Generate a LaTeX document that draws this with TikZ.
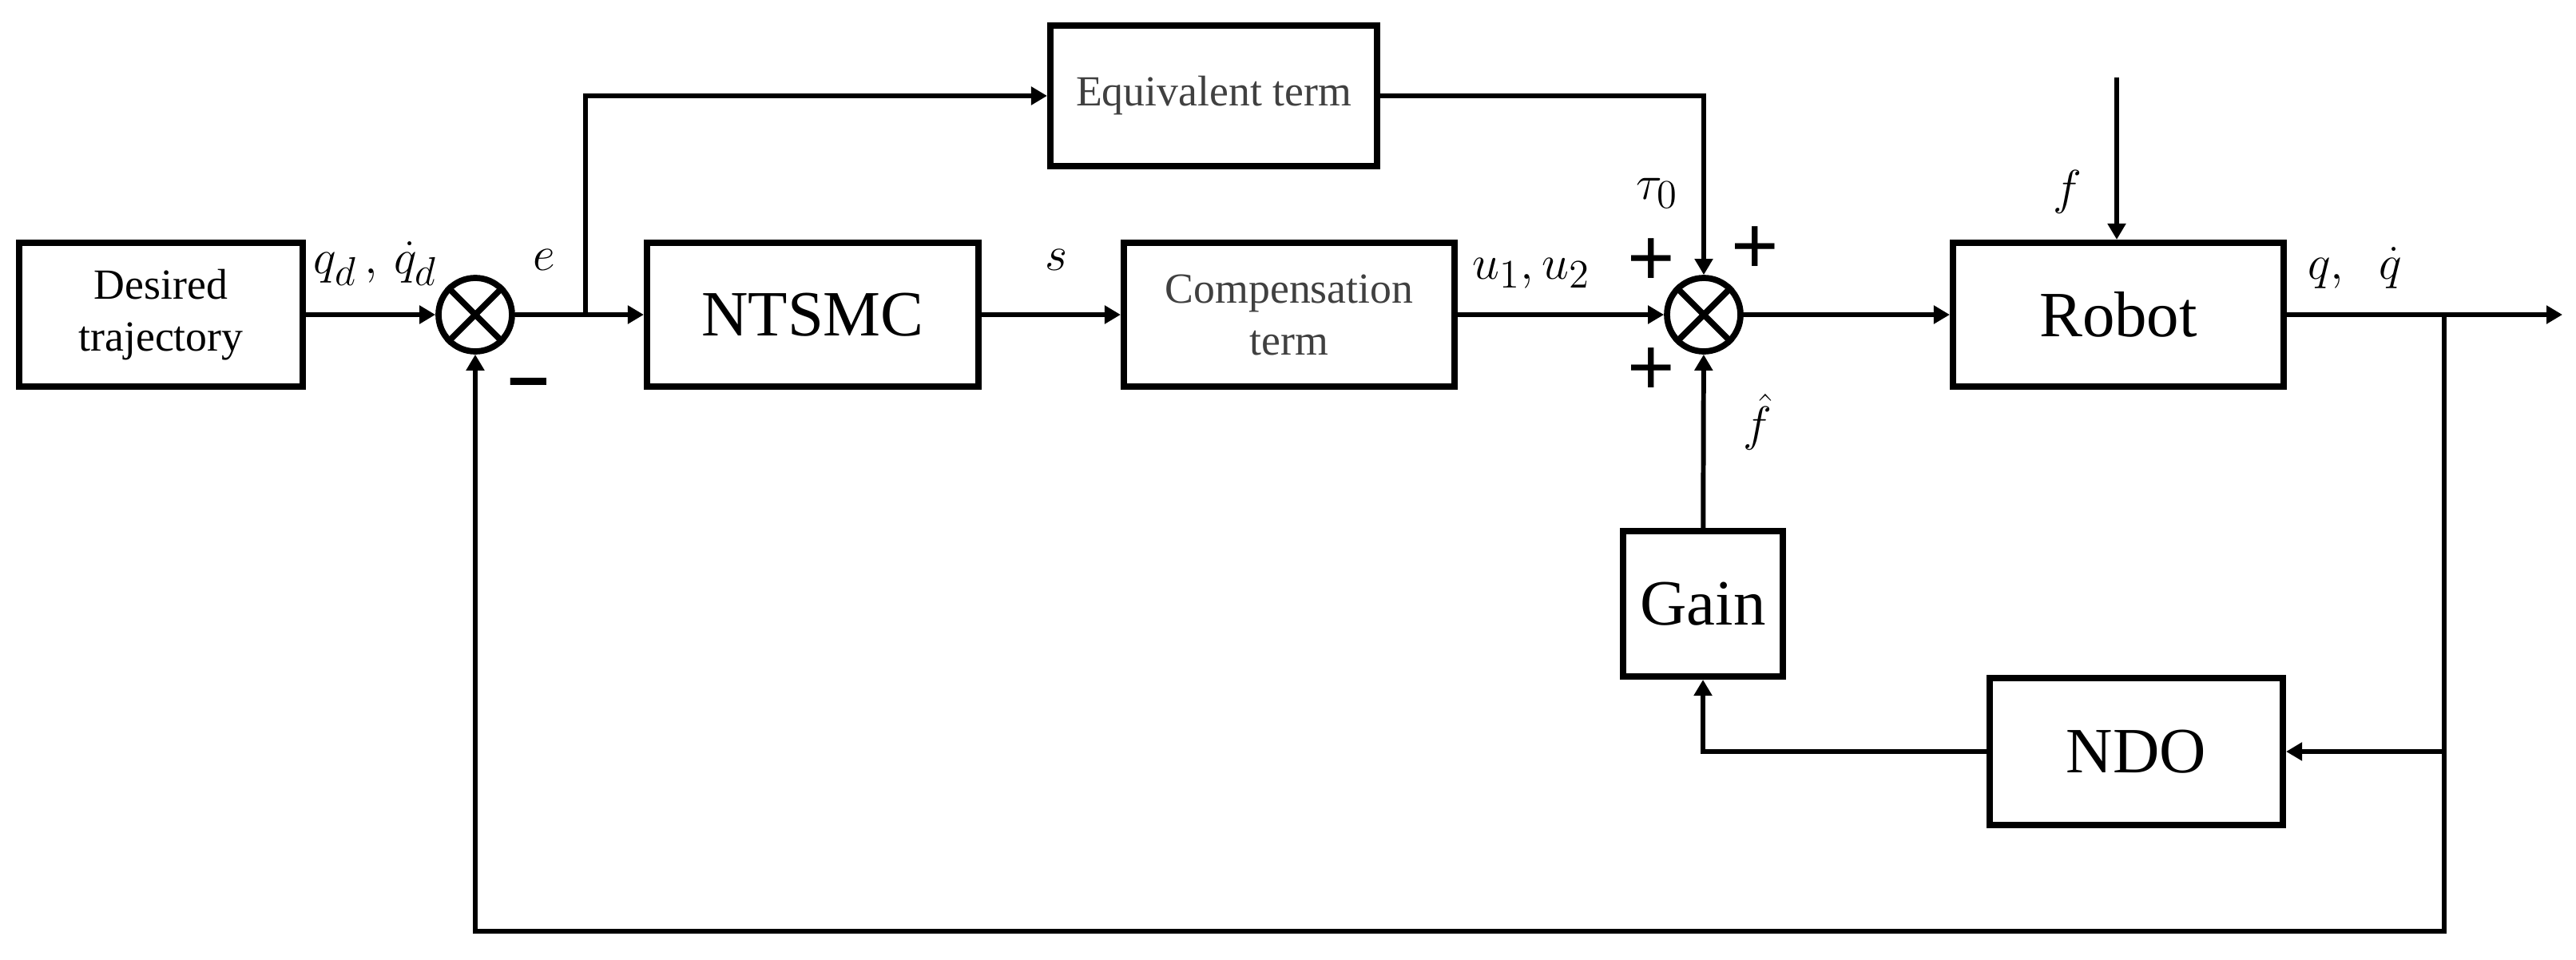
\documentclass[tikz,border=0pt]{standalone}
\usepackage{fontspec}
\setmainfont{Liberation Serif}
\setsansfont{Liberation Sans}
\usepackage{amsmath}
\usetikzlibrary{arrows.meta,shapes}
\tikzstyle{edge}=[
	-,
	draw=black,
	line width=1.7pt
]
\tikzstyle{arr}=[
	edge,
	-{Triangle[length=2mm,width=2.2mm]}
]
\tikzstyle{block}=[
	rectangle,
	draw=black,
	line width=2.3pt,
	inner sep=1mm,
	font=\fontsize{23}{27}\selectfont
]
\tikzstyle{sum}=[
	circle,
	draw=black,
	line width=2.2pt,
	minimum size=9.2mm,
	inner sep=0pt
]
\tikzstyle{lab}=[
	inner sep=0pt,
	font=\fontsize{19}{22}\selectfont
]
\tikzstyle{sgn}=[
	inner sep=0pt,
	font=\fontsize{29}{29}\selectfont\sffamily
]
\begin{document}
\begin{tikzpicture}[small/.style={block, font=\fontsize{15.3}{18.5}\selectfont, align=center}]
\useasboundingbox (0,0) rectangle (32.25,-12.01);

\node[small, minimum width=3.55cm, minimum height=1.8cm] at (2.015,-3.94) (traj) {Desired\\trajectory};
\node[block, minimum width=4.15cm, minimum height=1.8cm] at (10.175,-3.94) (ntsmc) {NTSMC};
\node[small, text=black!75, minimum width=4.14cm, minimum height=1.8cm] at (16.14,-3.94) (comp) {Compensation\\term};
\node[block, minimum width=4.14cm, minimum height=1.8cm] at (26.52,-3.94) (robot) {Robot};
\node[small, text=black!75, minimum width=4.09cm, minimum height=1.76cm] at (15.195,-1.2) (equiv) {Equivalent term};
\node[block, minimum width=2.0cm, minimum height=1.82cm] at (21.32,-7.56) (gain) {Gain};
\node[block, minimum width=3.67cm, minimum height=1.84cm] at (26.745,-9.41) (ndo) {NDO};

\node[sum] at (5.95,-3.94) (s1) {};
\node[sum] at (21.33,-3.94) (s2) {};
\foreach \s in {s1, s2}{
    \draw[line width=2.2pt] (\s.north west) -- (\s.south east) (\s.north east) -- (\s.south west);
}

\coordinate (eb) at (7.33,-3.94);
\coordinate (ftop) at (26.5,-0.97);
\coordinate (out) at (32.08,-3.94);
\coordinate (ob) at (30.6,-3.94);
\coordinate (fb) at (30.6,-11.66);

\draw[arr] (traj) -- (s1);
\draw[arr] (s1) -- (ntsmc);
\draw[arr] (eb) |- (equiv.west);
\draw[arr] (equiv.east) -| (s2.north);
\draw[arr] (ntsmc) -- (comp);
\draw[arr] (comp) -- (s2);
\draw[arr] (s2) -- (robot);
\draw[arr] (ftop) -- (ftop |- robot.north);
\draw[arr] (robot) -- (out);
\draw[arr] (ob |- ndo.east) -- (ndo.east);
\draw[arr] (ndo.west) -| (gain.south);
\draw[arr] (gain) -- (s2);
\draw[arr] (ob) -- (fb) -| (s1.south);

\node[lab] at (4.7,-3.3) (lqd) {$q_d\,,\,\dot{q}_d$};
\node[lab] at (6.81,-3.25) (le) {$e$};
\node[lab] at (13.22,-3.25) (ls) {$s$};
\node[lab] at (19.17,-3.42) (lu) {$u_1,u_2$};
\node[lab] at (20.75,-2.42) (ltau) {$\tau_0$};
\node[lab] at (22.0,-5.28) (lfh) {$\hat{f}$};
\node[lab] at (25.88,-2.4) (lf) {$f$};
\node[lab] at (29.48,-3.35) (lq) {$q,\ \ \dot{q}$};

\node[sgn] at (20.67,-3.28) (p1) {+};
\node[sgn] at (21.97,-3.13) (p2) {+};
\node[sgn] at (20.67,-4.65) (p3) {+};
\node[sgn, font=\fontsize{26}{26}\selectfont\sffamily\bfseries] at (6.62,-4.88) (m1) {–};

\end{tikzpicture}
\end{document}
